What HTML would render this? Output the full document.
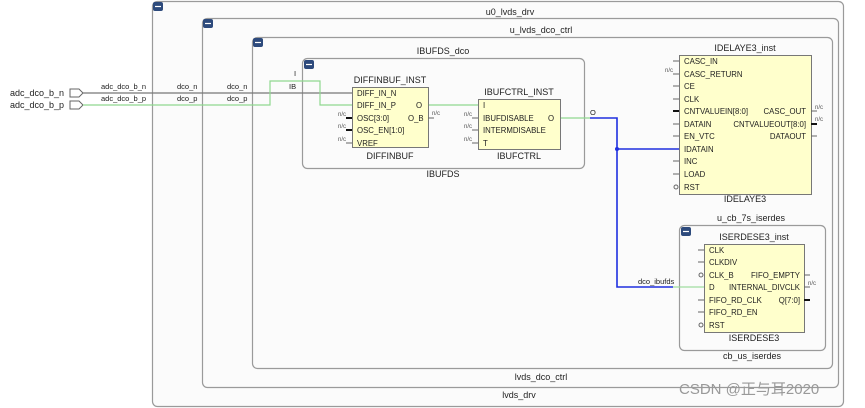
<!DOCTYPE html><html><head><meta charset="utf-8"><style>body{margin:0;background:#fff}svg{display:block}text{font-family:"Liberation Sans",sans-serif;fill:#222}.s{font-size:6px;fill:#555}</style></head><body>
<svg width="865" height="408" viewBox="0 0 865 408" xmlns="http://www.w3.org/2000/svg" font-size="9">
<rect width="865" height="408" fill="#fff"/>
<g fill="#fbfbfb" stroke="#9a9a9a" stroke-width="1.2">
<rect x="152.5" y="1.5" width="691" height="405" rx="5"/>
<rect x="202.5" y="18.5" width="636" height="369" rx="5"/>
<rect x="252.5" y="37.5" width="580" height="331" rx="5"/>
<rect x="302.5" y="58.5" width="282" height="110" rx="5"/>
<rect x="679.5" y="225.5" width="146" height="125" rx="5"/>
</g>
<g fill="#2d4a7c"><rect x="153" y="2" width="10" height="9" rx="2"/><rect x="203" y="19" width="10" height="9" rx="2"/><rect x="253" y="38" width="10" height="9" rx="2"/><rect x="304" y="60" width="10" height="9" rx="2"/><rect x="681" y="227" width="10" height="9" rx="2"/></g>
<g stroke="#fff" stroke-width="1.2"><line x1="155" y1="6.5" x2="161" y2="6.5"/><line x1="205" y1="23.5" x2="211" y2="23.5"/><line x1="255" y1="42.5" x2="261" y2="42.5"/><line x1="306" y1="64.5" x2="312" y2="64.5"/><line x1="683" y1="231.5" x2="689" y2="231.5"/></g>
<g text-anchor="middle"><text x="510" y="15">u0_lvds_drv</text><text x="519" y="398">lvds_drv</text><text x="541" y="33">u_lvds_dco_ctrl</text><text x="541" y="380">lvds_dco_ctrl</text>
<text x="443" y="54">IBUFDS_dco</text><text x="443" y="177">IBUFDS</text>
<text x="390" y="83">DIFFINBUF_INST</text><text x="390" y="159">DIFFINBUF</text>
<text x="519" y="95">IBUFCTRL_INST</text><text x="519" y="159">IBUFCTRL</text>
<text x="745" y="51">IDELAYE3_inst</text><text x="745" y="202">IDELAYE3</text>
<text x="751" y="221">u_cb_7s_iserdes</text><text x="752" y="359">cb_us_iserdes</text>
<text x="754" y="240">ISERDESE3_inst</text><text x="754" y="341">ISERDESE3</text></g>
<text x="10" y="96">adc_dco_b_n</text><text x="10" y="108">adc_dco_b_p</text>
<g fill="#fff" stroke="#666"><path d="M70 89h9l4 4-4 4h-9z"/><path d="M70 101h9l4 4-4 4h-9z"/></g>
<g font-size="7.5"><text x="101" y="89">adc_dco_b_n</text><text x="101" y="101">adc_dco_b_p</text><text x="177" y="89">dco_n</text><text x="177" y="101">dco_p</text><text x="227" y="89">dco_n</text><text x="227" y="101">dco_p</text><text x="294" y="76">I</text><text x="289" y="89">IB</text><text x="590" y="115">O</text><text x="638" y="284">dco_ibufds</text></g>
<g fill="none" stroke-width="1.2">
<path d="M83 93H352" stroke="#777"/>
<path d="M83 105H270V81H320V105H352" stroke="#8fd88f"/>
<path d="M428 105H478" stroke="#8fd88f"/>
<path d="M560 118H590" stroke="#8fd88f"/>
<path d="M590 118H617V287H673" stroke="#1f2fe0" stroke-width="1.6"/>
<path d="M617 149H679" stroke="#1f2fe0" stroke-width="1.6"/>
<path d="M673 287H704" stroke="#9fdc9f"/>
</g>
<circle cx="617" cy="149" r="2" fill="#1f2fe0"/>
<g fill="#ffffcc" stroke="#777"><rect x="352.5" y="87.5" width="76" height="60"/><rect x="478.5" y="99.5" width="82" height="50"/><rect x="679.5" y="55.5" width="132" height="139"/><rect x="704.5" y="244.5" width="100" height="88"/></g>
<g font-size="7.8">
<text x="357" y="96">DIFF_IN_N</text><text x="357" y="108">DIFF_IN_P</text><text x="357" y="121">OSC[3:0]</text><text x="357" y="133">OSC_EN[1:0]</text><text x="357" y="146">VREF</text><text x="416" y="108">O</text><text x="408" y="121">O_B</text>
<text x="483" y="108">I</text><text x="483" y="121">IBUFDISABLE</text><text x="483" y="133">INTERMDISABLE</text><text x="483" y="146">T</text><text x="548" y="121">O</text>
<text x="684" y="64">CASC_IN</text><text x="684" y="77">CASC_RETURN</text><text x="684" y="89">CE</text><text x="684" y="102">CLK</text><text x="684" y="114">CNTVALUEIN[8:0]</text><text x="684" y="127">DATAIN</text><text x="684" y="139">EN_VTC</text><text x="684" y="152">IDATAIN</text><text x="684" y="164">INC</text><text x="684" y="177">LOAD</text><text x="684" y="190">RST</text>
<text x="806" y="114" text-anchor="end">CASC_OUT</text><text x="806" y="127" text-anchor="end">CNTVALUEOUT[8:0]</text><text x="806" y="139" text-anchor="end">DATAOUT</text>
<text x="709" y="253">CLK</text><text x="709" y="265">CLKDIV</text><text x="709" y="278">CLK_B</text><text x="709" y="290">D</text><text x="709" y="303">FIFO_RD_CLK</text><text x="709" y="315">FIFO_RD_EN</text><text x="709" y="328">RST</text>
<text x="800" y="278" text-anchor="end">FIFO_EMPTY</text><text x="800" y="290" text-anchor="end">INTERNAL_DIVCLK</text><text x="800" y="303" text-anchor="end">Q[7:0]</text></g>
<g stroke="#666"><path d="M346 118h6M346 130h6M346 143h6M428 118h6M472 118h6M472 130h6M472 143h6M673 61h6M673 74h6M673 86h6M673 99h6M673 124h6M673 136h6M673 161h6M673 174h6M811 111h6M811 136h6M698 250h6M698 262h6M698 300h6M698 312h6M804 275h6M804 287h6"/></g>
<g stroke="#111" stroke-width="2"><path d="M346 118h6M346 130h6M673 111h6M811 124h6M804 300h6"/></g>
<g fill="none" stroke="#666"><circle cx="676" cy="187" r="2"/><circle cx="701" cy="275" r="2"/><circle cx="701" cy="325" r="2"/></g>
<g><text x="338" y="116" class="s">n/c</text><text x="338" y="128" class="s">n/c</text><text x="338" y="141" class="s">n/c</text><text x="432" y="115" class="s">n/c</text><text x="464" y="116" class="s">n/c</text><text x="464" y="128" class="s">n/c</text><text x="464" y="141" class="s">n/c</text><text x="665" y="72" class="s">n/c</text><text x="815" y="109" class="s">n/c</text><text x="815" y="121" class="s">n/c</text><text x="808" y="285" class="s">n/c</text></g>
<text x="679" y="394" style="fill:#999;font-family:'Liberation Sans','Noto Sans CJK SC',sans-serif;font-size:15px">CSDN @正与耳2020</text>
</svg></body></html>
